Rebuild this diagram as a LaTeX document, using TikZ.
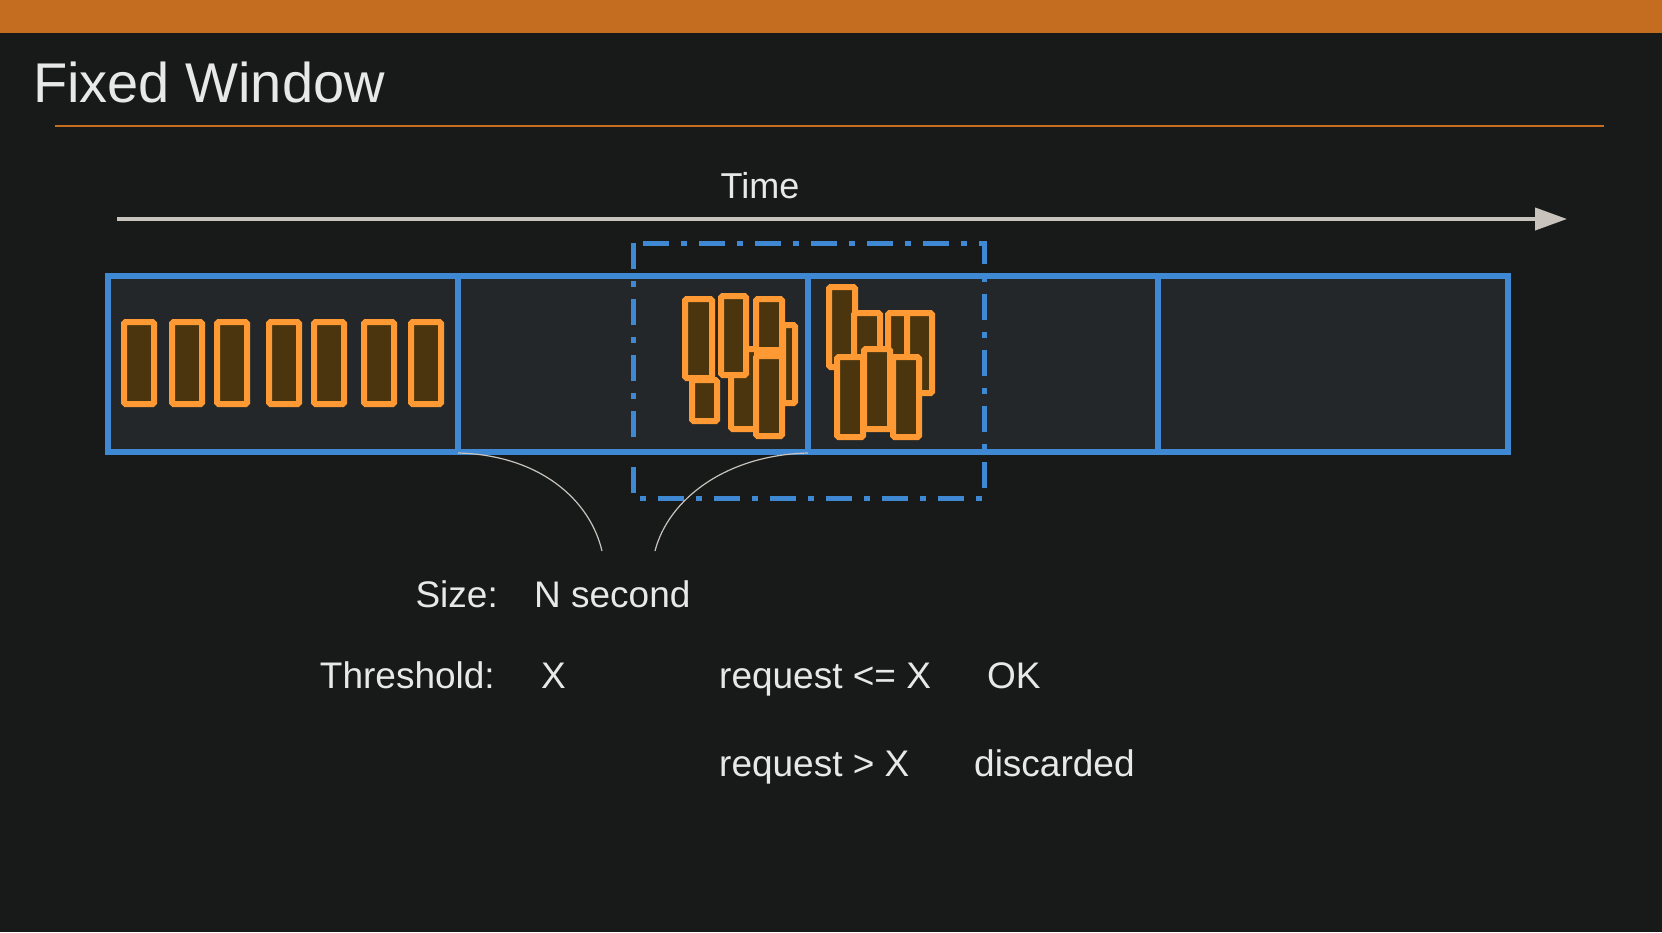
\documentclass[tikz,border=0pt]{standalone}
\usepackage{fontspec}
\usetikzlibrary{arrows.meta}
\setmainfont{Liberation Sans}
\definecolor{bg}{HTML}{181A1A}
\definecolor{topbar}{HTML}{C46C1F}
\definecolor{cellbg}{HTML}{23272A}
\definecolor{wblue}{HTML}{3F88D4}
\definecolor{req}{HTML}{FF9933}
\definecolor{reqfill}{HTML}{4A350E}
\definecolor{txt}{HTML}{E8E8E8}
\definecolor{arrowc}{HTML}{C8C3BC}
\begin{document}
\begin{tikzpicture}[x=1pt,y=-1pt,
  cell/.style={draw=wblue,fill=cellbg,line width=5.5pt},
  reqbox/.style={draw=req,fill=reqfill,line width=6pt,rounded corners=1.5pt},
  lbl/.style={text=txt,font=\fontsize{37}{40}\selectfont,inner sep=0pt}]
\fill[bg] (0,0) rectangle (1662,932);
\useasboundingbox (0,0) rectangle (1662,932);
\fill[topbar] (0,0) rectangle (1662,33);
\node[text=txt,font=\fontsize{56}{60}\selectfont,anchor=west,inner sep=0pt] (title) at (33,82) {Fixed Window};
\draw[topbar,line width=2pt] (55,126) -- (1604,126);
\node[lbl,font=\fontsize{36}{40}\selectfont] (time) at (760,186) {Time};
\coordinate (ta) at (117,219);
\coordinate (tb) at (1567,219);
\draw[arrowc,line width=4pt,-{Triangle[length=32pt,width=22pt]}] (ta) -- (tb);
% cells
\foreach \a/\b [count=\i] in {108/458,458/808,808/1158,1158/1508}
  \draw[cell] (\a,276) rectangle (\b,452) coordinate (c\i);
% left requests
\foreach \x in {124,172,217,269,314,364,411}
  \draw[reqbox] (\x,322) rectangle ++(30,82);
% clustered requests
\foreach \a/\b/\c/\d in {692/380/717/421, 685/299/712/378, 783/325/795/403, 731/349/757/429, 721/296/746/375, 756/299/782/350, 756/356/782/436,
  829/287/855/367, 854/313/880/392, 888/313/908/393, 907/313/932/393, 837/357/863/437, 864/349/890/429, 893/357/919/437}
  \draw[reqbox] (\a,\b) rectangle (\c,\d);
% sliding window
\draw[wblue,line width=5pt,dash pattern=on 26pt off 12pt on 6pt off 12pt] (633,243) rectangle (984,498);
% braces
\coordinate (p1) at (458,453);
\coordinate (p2) at (602,551);
\coordinate (p3) at (808,453);
\coordinate (p4) at (655,551);
\draw[arrowc,line width=1.2pt] (p1) .. controls (540,455) and (590,500) .. (p2);
\draw[arrowc,line width=1.2pt] (p3) .. controls (725,455) and (668,500) .. (p4);
% texts
\node[lbl,anchor=base east] (size) at (498,607) {Size:};
\node[lbl,anchor=base west] (nsec) at (534,607) {N second};
\node[lbl,anchor=base east] (thr) at (495,688) {Threshold:};
\node[lbl,anchor=base west] (x) at (541,688) {X};
\node[lbl,anchor=base west] (r1) at (719,688) {request <= X};
\node[lbl,anchor=base west] (ok) at (987,688) {OK};
\node[lbl,anchor=base west] (r2) at (719,776) {request > X};
\node[lbl,anchor=base west] (disc) at (974,776) {discarded};
\end{tikzpicture}
\end{document}
